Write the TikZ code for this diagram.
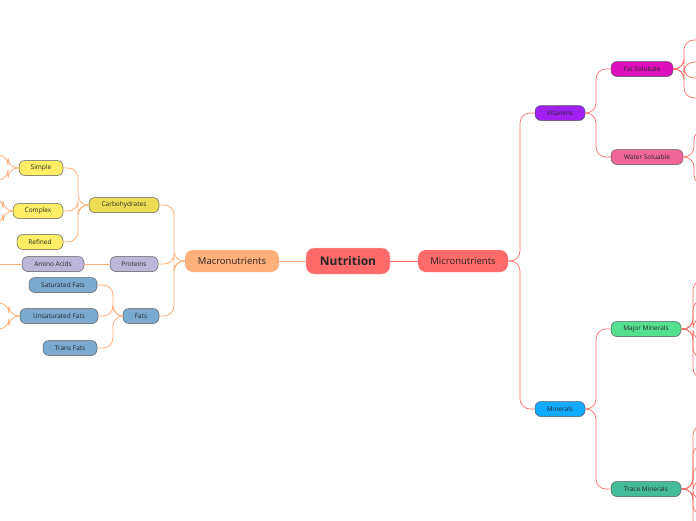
\documentclass[tikz,border=0pt]{standalone}
\usepackage{fontspec}
\setmainfont{Open Sans}
\begin{document}
\begin{tikzpicture}[x=1pt,y=-1pt,
  nd/.style={draw=black!65,line width=0.5pt,rounded corners=6pt,minimum height=15pt,inner sep=1pt,font=\fontsize{6.5}{7}\selectfont,text=black!85},
  big/.style={rounded corners=8pt,minimum height=22pt,inner sep=2pt,font=\fontsize{9.5}{11}\selectfont,text=black!85},
  lo/.style={draw=orange!45!red!20!white,color={rgb,255:red,255;green,176;blue,122},line width=0.8pt,rounded corners=10pt},
  ro/.style={color={rgb,255:red,255;green,110;blue,105},line width=0.7pt,rounded corners=10pt}]
\definecolor{red1}{RGB}{255,107,107}
\definecolor{orng}{RGB}{255,176,122}
\useasboundingbox (0,0) rectangle (696,520);
\node[big,fill=red1,minimum width=84pt,minimum height=26pt,font=\bfseries\fontsize{12}{14}\selectfont,draw=red1!80!black!30] (nut) at (348,261) {Nutrition};
\node[big,fill=red1,minimum width=90pt] (mic) at (463,261) {Micronutrients};
\node[big,fill=orng,minimum width=94pt] (mac) at (232,261) {Macronutrients};
\node[nd,fill={rgb,255:red,236;green,221;blue,85},minimum width=70pt] (carb) at (124,205) {Carbohydrates};
\node[nd,fill={rgb,255:red,189;green,182;blue,218},minimum width=48pt] (prot) at (134,264) {Proteins};
\node[nd,fill={rgb,255:red,123;green,170;blue,208},minimum width=36pt] (fats) at (141,316) {Fats};
\node[nd,fill={rgb,255:red,255;green,238;blue,102},minimum width=44pt] (simp) at (41,168) {Simple};
\node[nd,fill={rgb,255:red,255;green,238;blue,102},minimum width=50pt] (comp) at (38,211) {Complex};
\node[nd,fill={rgb,255:red,255;green,238;blue,102},minimum width=46pt] (ref) at (40,242) {Refined};
\node[nd,fill={rgb,255:red,189;green,182;blue,218},minimum width=62pt] (amino) at (53,264) {Amino Acids};
\node[nd,fill={rgb,255:red,123;green,170;blue,208},minimum width=68pt] (sat) at (63,285) {Saturated Fats};
\node[nd,fill={rgb,255:red,123;green,170;blue,208},minimum width=78pt] (unsat) at (59,316) {Unsaturated Fats};
\node[nd,fill={rgb,255:red,123;green,170;blue,208},minimum width=54pt] (trans) at (70,348) {Trans Fats};
\node[nd,fill={rgb,255:red,160;green,32;blue,240},minimum width=50pt] (vit) at (560,113) {Vitamins};
\node[nd,fill={rgb,255:red,221;green,17;blue,187},minimum width=62pt] (fsol) at (642,69) {Fat Solubale};
\node[nd,fill={rgb,255:red,240;green,102;blue,153},minimum width=72pt] (wsol) at (647,157) {Water Soluable};
\node[nd,fill={rgb,255:red,17;green,170;blue,255},minimum width=50pt] (min) at (560,409) {Minerals};
\node[nd,fill={rgb,255:red,85;green,224;blue,143},minimum width=70pt] (maj) at (646,329) {Major Minerals};
\node[nd,fill={rgb,255:red,68;green,187;blue,153},minimum width=70pt] (tra) at (646,489) {Trace Minerals};
\coordinate (e0) at (-5,264);
% connectors left
\draw[orng,line width=1pt] (nut.west) -- (mac.east);
\foreach \c in {carb,prot,fats} \draw[lo] (mac.west) -- (174,261) |- (\c.east);
\foreach \c in {simp,comp,ref} \draw[lo] (carb.west) -- (78,205) |- (\c.east);
\draw[lo] (prot.west) -- (amino.east);
\draw[lo] (amino.west) -- (e0);
\foreach \c in {sat,unsat,trans} \draw[lo] (fats.west) -- (113,316) |- (\c.east);
\foreach \y in {155,180} \draw[lo] (simp.west) -- (8,168) |- (-20,\y);
\foreach \y in {198,224} \draw[lo] (comp.west) -- (3,211) |- (-20,\y);
\foreach \y in {303,329} \draw[lo] (unsat.west) -- (9,316) |- (-20,\y);
% connectors right
\draw[red1,line width=1pt] (nut.east) -- (mic.west);
\foreach \c in {vit,min} \draw[ro] (mic.east) -- (520,261) |- (\c.west);
\foreach \c in {fsol,wsol} \draw[ro] (vit.east) -- (596,113) |- (\c.west);
\foreach \c in {maj,tra} \draw[ro] (min.east) -- (596,409) |- (\c.west);
\foreach \y in {40,62,78,98} \draw[ro] (fsol.east) -- (684,69) |- (720,\y);
\foreach \y in {130,185} \draw[ro] (wsol.east) -- (694,157) |- (720,\y);
\foreach \y in {280,300,318,340,358,378} \draw[ro] (maj.east) -- (693,329) |- (720,\y);
\foreach \y in {425,445,465,480,500,515,530} \draw[ro] (tra.east) -- (693,489) |- (720,\y);
\end{tikzpicture}
\end{document}
